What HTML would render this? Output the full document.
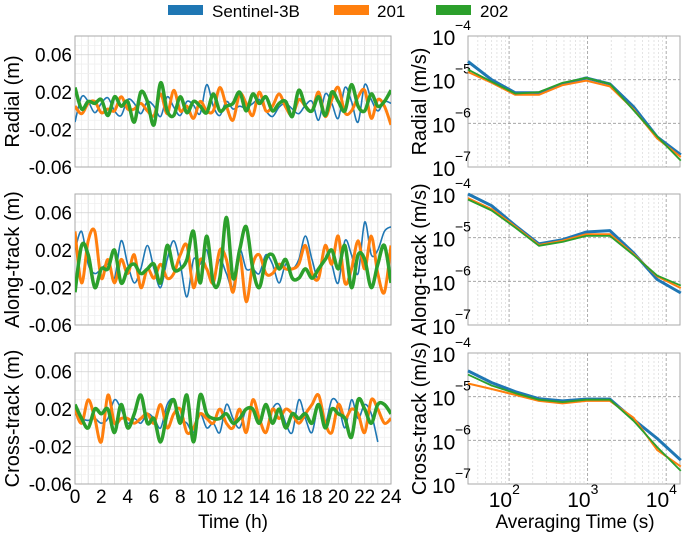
<!DOCTYPE html>
<html><head><meta charset="utf-8"><style>
html,body{margin:0;padding:0;background:#fff;}
svg{display:block;font-family:"Liberation Sans",sans-serif;}
</style></head><body>
<svg id="chart" width="685" height="534" viewBox="0 0 685 534" xmlns="http://www.w3.org/2000/svg">
<g>
<rect x="168" y="5" width="35" height="10" fill="#1f77b4"/>
<text x="212" y="17" font-size="17">Sentinel-3B</text>
<rect x="334" y="5" width="35" height="10" fill="#ff7f0e"/>
<text x="377" y="17" font-size="17">201</text>
<rect x="436" y="5" width="35" height="10" fill="#2ca02c"/>
<text x="480" y="17" font-size="17">202</text>
</g>
</svg>
<script>
const hours=[];for(let i=0;i<=48;i++)hours.push(i*0.5);
const radialS3B=[-12,15,10,-2,8,14,0,-5,12,8,-3,10,5,-6,15,4,-5,10,6,-3,28,5,-5,10,2,5,3,8,12,0,-6,4,8,2,-3,6,10,-10,18,8,-8,25,10,-12,28,12,0,10,8];
const radial201=[5,-3,8,10,-2,2,0,15,2,2,8,0,-5,18,-3,22,0,5,-8,10,0,0,25,5,-10,18,8,-5,20,0,5,18,4,-5,12,5,0,20,-6,12,25,-2,0,15,22,-8,12,5,-15];
const radial202=[25,2,10,8,12,-5,15,5,10,-12,20,10,-15,30,0,-5,15,-2,10,5,-2,18,0,5,8,20,0,18,8,15,0,8,10,-6,22,5,0,15,-5,20,10,0,28,5,0,18,5,10,22];
const alongS3B=[20,40,5,-5,0,5,-10,30,5,-15,0,25,0,-20,10,30,5,-30,10,5,20,-10,10,-5,-20,20,0,0,-5,15,5,-15,5,0,10,35,10,-10,25,5,-15,30,15,-5,50,15,20,40,45];
const along201=[40,-15,30,40,-10,10,-15,10,-5,15,-20,0,-10,5,-10,-5,15,25,-20,10,0,-15,20,10,-25,15,-35,5,15,-5,-5,5,0,0,5,25,-5,-10,25,5,35,-15,0,30,0,35,-5,-25,25];
const along202=[-25,25,15,-20,0,0,20,-15,0,5,-5,0,5,-15,25,0,0,10,40,-15,35,-15,-10,55,-10,20,45,0,-20,10,15,0,10,-10,-10,0,-10,0,10,20,0,25,-20,15,10,-20,5,25,-15];
const crossS3B=[15,10,8,10,5,10,30,20,5,10,5,15,10,0,25,30,10,5,-5,15,0,5,-5,25,10,0,20,20,10,-5,20,25,5,-5,30,10,-5,25,5,30,25,0,30,10,25,15,-15];
const cross201=[20,5,30,10,-15,35,5,10,10,5,10,15,5,25,0,15,20,-5,0,15,10,5,20,5,0,20,-5,30,10,-5,20,10,20,15,5,15,25,35,5,-5,25,10,20,15,-5,30,20,5,10];
const cross202=[25,10,0,20,15,20,-5,25,0,15,35,5,10,-15,15,30,5,35,-15,35,15,10,10,15,5,10,20,20,5,25,5,20,0,15,10,15,5,25,0,20,15,10,-10,30,20,5,25,25,15];
const taus=[30,60,120,240,480,960,1920,3840,7680,15360];
const adevRadialS3B=[2.6e-5,1e-5,5e-6,5e-6,8e-6,1.1e-5,8e-6,2.4e-6,4.9e-7,1.9e-7];
const adevRadial201=[1.5e-5,8.5e-6,4.5e-6,4.5e-6,7.5e-6,9.5e-6,7e-6,2.1e-6,4.5e-7,1.7e-7];
const adevRadial202=[1.7e-5,9e-6,4.8e-6,5.2e-6,8.5e-6,1.1e-5,8e-6,2e-6,5e-7,1.4e-7];
const adevAlongS3B=[1e-4,5.4e-5,1.9e-5,7.2e-6,9e-6,1.35e-5,1.45e-5,4.5e-6,1.1e-6,5.4e-7];
const adevAlong201=[8e-5,4.5e-5,1.8e-5,6.8e-6,8.5e-6,1.2e-5,1.2e-5,4.2e-6,1.3e-6,7e-7];
const adevAlong202=[7.5e-5,4.2e-5,1.7e-5,6.5e-6,8e-6,1.1e-5,1.1e-5,4e-6,1.35e-6,8e-7];
const adevCrossS3B=[3.9e-5,2.1e-5,1.3e-5,9e-6,8e-6,8.8e-6,8.8e-6,3e-6,1.1e-6,3.5e-7];
const adevCross201=[2e-5,1.5e-5,1.1e-5,8e-6,7e-6,8e-6,8e-6,3.3e-6,6e-7,2.5e-7];
const adevCross202=[3.2e-5,1.8e-5,1.2e-5,8.5e-6,7.5e-6,8.5e-6,8.5e-6,2.8e-6,7e-7,2e-7];
const yTickLabels=["0.06","0.02","-0.02","-0.06"];
const yTickValues=[0.06,0.02,-0.02,-0.06];
const hourTicks=[0,2,4,6,8,10,12,14,16,18,20,22,24];
const decadeExps=[-4,-5,-6,-7];
const tauExps=[2,3,4];

const NS="http://www.w3.org/2000/svg";
const svg=document.getElementById('chart');
function mk(tag,attrs,parent){const e=document.createElementNS(NS,tag);for(const k in attrs)e.setAttribute(k,attrs[k]);(parent||svg).appendChild(e);return e;}
const C={s:'#1f77b4',o:'#ff7f0e',g:'#2ca02c'};
const rows=[{top:36,name:'Radial'},{top:194,name:'Along-track'},{top:353,name:'Cross-track'}];
const H=131,LX0=75,LX1=391,RX0=468,RX1=680;
const xT=t=>LX0+(t/24)*(LX1-LX0);
const LT0=Math.log10(30),LT1=Math.log10(15000);
const xL=t=>RX0+(Math.log10(t)-LT0)/(LT1-LT0)*(RX1-RX0);
function smooth(pts){let d='M'+pts[0][0].toFixed(1)+','+pts[0][1].toFixed(1);
for(let i=0;i<pts.length-1;i++){const p0=pts[Math.max(i-1,0)],p1=pts[i],p2=pts[i+1],p3=pts[Math.min(i+2,pts.length-1)];
d+=' C'+(p1[0]+(p2[0]-p0[0])/6).toFixed(1)+','+(p1[1]+(p2[1]-p0[1])/6).toFixed(1)+' '+(p2[0]-(p3[0]-p1[0])/6).toFixed(1)+','+(p2[1]-(p3[1]-p1[1])/6).toFixed(1)+' '+p2[0].toFixed(1)+','+p2[1].toFixed(1);}
return d;}
const tsData=[[radialS3B,radial201,radial202],[alongS3B,along201,along202],[crossS3B,cross201,cross202]];
const adData=[[adevRadialS3B,adevRadial201,adevRadial202],[adevAlongS3B,adevAlong201,adevAlong202],[adevCrossS3B,adevCross201,adevCross202]];
rows.forEach((r,ri)=>{
  const yV=v=>r.top+(0.08-v)/0.14*H;
  const yA=v=>r.top+(-4-Math.log10(v))/3*H;
  const key=r.name.toLowerCase();
  const gL=mk('g',{});
  
  
  for(let t=0;t<=24;t+=0.5){const x=xT(t);mk('line',{x1:x,x2:x,y1:r.top,y2:r.top+H,stroke:(t%1===0)?'#d8d8d8':'#efefef','stroke-width':0.8},gL);}
  for(let v=-0.06;v<=0.0801;v+=0.01){const y=yV(v);mk('line',{x1:LX0,x2:LX1,y1:y,y2:y,stroke:(Math.round(v*100)%4===2||Math.round(v*100)%4===-2)?'#d0d0d0':'#efefef','stroke-width':0.8},gL);}
  mk('rect',{x:LX0,y:r.top,width:LX1-LX0,height:H,fill:'none',stroke:'#aaa','stroke-width':1},gL);
  yTickValues.forEach((v,i)=>{const t=mk('text',{x:LX0-3,y:yV(v)+7,'text-anchor':'end','font-size':19},gL);t.textContent=yTickLabels[i];
    
    });
  const yl=mk('text',{x:0,y:0,'text-anchor':'middle','font-size':20,transform:'translate(19,'+(r.top+H/2)+') rotate(-90)'},gL);
  yl.textContent=r.name+' (m)';
  
  
  const widths=[1.6,3,3.5],cols=[C.s,C.o,C.g],names=['sentinel-3b','201','202'];
  const clipId='clip'+ri;const cp=mk('clipPath',{id:clipId},gL);mk('rect',{x:LX0,y:r.top,width:LX1-LX0,height:H},cp);
  tsData[ri].forEach((arr,si)=>{
    const pts=arr.map((v,i)=>[xT(hours[i]),yV(v/1000)]);
    const p=mk('path',{d:smooth(pts),fill:'none',stroke:cols[si],'stroke-width':widths[si],'stroke-linejoin':'round','clip-path':'url(#'+clipId+')'},gL);
    
    
  });
  const gR=mk('g',{});
  
  
  for(let e=1;e<=4;e++)for(let m=1;m<10;m++){const t=m*Math.pow(10,e);if(t<30||t>15000)continue;const x=xL(t);
    mk('line',{x1:x,x2:x,y1:r.top,y2:r.top+H,stroke:m===1?'#999':'#ddd','stroke-width':0.8,'stroke-dasharray':m===1?'3,2':'2,2'},gR);}
  for(let e=-7;e<=-4;e++){const y=yA(Math.pow(10,e));if(e>-7&&e<-4)mk('line',{x1:RX0,x2:RX1,y1:y,y2:y,stroke:'#999','stroke-width':0.8,'stroke-dasharray':'3,2'},gR);}
  mk('rect',{x:RX0,y:r.top,width:RX1-RX0,height:H,fill:'none',stroke:'#aaa','stroke-width':1},gR);
  decadeExps.forEach(e=>{const y=yA(Math.pow(10,e));const t=mk('text',{x:432,y:y+9,'font-size':21},gR);t.textContent='10';
    const s=mk('text',{x:455,y:y-6,'font-size':14},gR);s.textContent='\u2212'+(-e);
    
    });
  const yr=mk('text',{x:0,y:0,'text-anchor':'middle','font-size':20,transform:'translate(426,'+(r.top+H/2)+') rotate(-90)'},gR);
  yr.textContent=r.name+' (m/s)';
  
  
  const aw=[3,2,1.8];
  adData[ri].forEach((arr,si)=>{
    const d=arr.map((v,i)=>(i?'L':'M')+xL(taus[i]).toFixed(1)+','+yA(v).toFixed(1)).join(' ');
    const p=mk('path',{d:d,fill:'none',stroke:cols[si],'stroke-width':aw[si],'stroke-linejoin':'round'},gR);
    
    
  });
});
hourTicks.forEach(h=>{const t=mk('text',{x:xT(h),y:503,'text-anchor':'middle','font-size':19});t.textContent=h;
  
  });
tauExps.forEach(e=>{const x=xL(Math.pow(10,e));const t=mk('text',{x:x+3,y:507,'text-anchor':'end','font-size':21});t.textContent='10';
  
  
  const s=mk('text',{x:x+3,y:494,'font-size':14});s.textContent=e;});
const xt1=mk('text',{x:233,y:528,'text-anchor':'middle','font-size':19});xt1.textContent='Time (h)';


const xt2=mk('text',{x:575,y:528,'text-anchor':'middle','font-size':19});xt2.textContent='Averaging Time (s)';


</script>
</body></html>
